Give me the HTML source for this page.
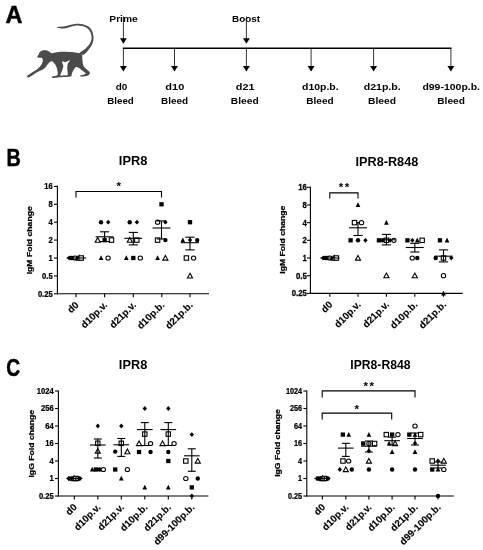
<!DOCTYPE html>
<html lang="en"><head><meta charset="utf-8"><title>Figure</title>
<style>html,body{margin:0;padding:0;background:#fff}svg{display:block}text{font-family:'Liberation Sans', sans-serif}</style>
</head><body>
<svg width="483" height="550" viewBox="0 0 483 550">
<rect width="483" height="550" fill="#fff"/>
<text transform="translate(5.61,23.2) scale(0.9955,1)" font-size="23.6" font-weight="bold" fill="#000" stroke="#000" stroke-width="0.5">A</text>
<text transform="translate(6.52,165.7) scale(0.8231,1)" font-size="24.0" font-weight="bold" fill="#000" stroke="#000" stroke-width="0.5">B</text>
<text transform="translate(6.33,375.6) scale(0.7949,1)" font-size="24.2" font-weight="bold" fill="#000" stroke="#000" stroke-width="0.5">C</text>
<g fill="#4b4b4b" stroke="none"><path d="M56.50,27.05 C57.18,26.67 61.67,26.73 64.70,26.20 C67.73,25.67 71.67,24.23 74.70,23.90 C77.73,23.57 80.28,23.48 82.90,24.20 C85.52,24.92 88.63,26.15 90.40,28.20 C92.17,30.25 93.23,33.73 93.50,36.50 C93.77,39.27 93.07,42.32 92.00,44.80 C90.93,47.28 88.62,49.75 87.10,51.40 C85.58,53.05 84.25,54.37 82.90,54.70 C81.55,55.03 78.53,54.45 79.00,53.40 C79.47,52.35 83.85,50.12 85.70,48.40 C87.55,46.68 89.12,45.08 90.10,43.10 C91.08,41.12 91.83,38.77 91.60,36.50 C91.37,34.23 90.28,31.23 88.70,29.50 C87.12,27.77 84.43,26.73 82.10,26.10 C79.77,25.47 77.45,25.35 74.70,25.70 C71.95,26.05 67.95,27.73 65.60,28.20 C63.25,28.67 62.12,28.69 60.60,28.50 C59.08,28.31 55.82,27.43 56.50,27.05 Z"/><path d="M37.30,56.50 C37.32,56.02 38.13,55.45 38.50,54.80 C38.87,54.15 39.05,53.23 39.50,52.60 C39.95,51.97 40.52,51.38 41.20,51.00 C41.88,50.62 42.80,50.42 43.60,50.30 C44.40,50.18 45.23,50.18 46.00,50.30 C46.77,50.42 47.48,50.62 48.20,51.00 C48.92,51.38 49.70,52.23 50.30,52.60 C50.90,52.97 51.32,53.13 51.80,53.20 C52.28,53.27 52.15,53.20 53.20,53.00 C54.25,52.80 56.42,52.22 58.10,52.00 C59.78,51.78 61.05,51.70 63.30,51.70 C65.55,51.70 69.12,51.77 71.60,52.00 C74.08,52.23 76.47,52.57 78.20,53.10 C79.93,53.63 81.32,54.38 82.00,55.20 C82.68,56.02 82.18,56.77 82.30,58.00 C82.42,59.23 82.48,61.28 82.70,62.60 C82.92,63.92 82.97,64.80 83.60,65.90 C84.23,67.00 85.53,68.23 86.50,69.20 C87.47,70.17 88.87,70.95 89.40,71.70 C89.93,72.45 89.92,73.08 89.70,73.70 C89.48,74.32 88.97,74.98 88.10,75.40 C87.23,75.82 85.73,76.00 84.50,76.20 C83.27,76.40 81.40,76.70 80.70,76.60 C80.00,76.50 79.75,75.93 80.30,75.60 C80.85,75.27 83.12,74.98 84.00,74.60 C84.88,74.22 86.02,74.07 85.60,73.30 C85.18,72.53 82.73,70.97 81.50,70.00 C80.27,69.03 79.10,67.98 78.20,67.50 C77.30,67.02 76.87,66.68 76.10,67.10 C75.33,67.52 74.28,68.97 73.60,70.00 C72.92,71.03 72.33,72.40 72.00,73.30 C71.67,74.20 71.82,74.88 71.60,75.40 C71.38,75.92 71.80,76.15 70.70,76.40 C69.60,76.65 67.12,76.73 65.00,76.90 C62.88,77.07 60.05,77.23 58.00,77.40 C55.95,77.57 53.65,78.03 52.70,77.90 C51.75,77.77 51.52,77.08 52.30,76.60 C53.08,76.12 56.57,76.10 57.40,75.00 C58.23,73.90 57.60,71.67 57.30,70.00 C57.00,68.33 56.43,66.43 55.60,65.00 C54.77,63.57 53.27,61.88 52.30,61.40 C51.33,60.92 50.77,61.35 49.80,62.10 C48.83,62.85 47.67,64.65 46.50,65.90 C45.33,67.15 44.58,68.43 42.80,69.60 C41.02,70.77 38.08,71.62 35.80,72.90 C33.52,74.18 30.52,76.65 29.10,77.30 C27.68,77.95 27.57,77.08 27.30,76.80 C27.03,76.52 26.37,76.52 27.50,75.60 C28.63,74.68 32.17,72.65 34.10,71.30 C36.03,69.95 37.78,68.82 39.10,67.50 C40.42,66.18 41.38,64.70 42.00,63.40 C42.62,62.10 42.87,60.63 42.80,59.70 C42.73,58.77 42.33,58.13 41.60,57.80 C40.87,57.47 39.12,57.92 38.40,57.70 C37.68,57.48 37.28,56.98 37.30,56.50 Z"/><path d="M62.00,61.70 C62.42,61.07 64.48,62.32 65.80,62.10 C67.12,61.88 69.57,60.12 69.90,60.40 C70.23,60.68 68.23,62.33 67.80,63.80 C67.37,65.27 67.33,67.33 67.30,69.20 C67.27,71.07 68.15,73.98 67.60,75.00 C67.05,76.02 65.20,75.23 64.00,75.30 C62.80,75.37 60.80,76.00 60.40,75.40 C60.00,74.80 61.12,73.28 61.60,71.70 C62.08,70.12 63.23,67.57 63.30,65.90 C63.37,64.23 61.58,62.33 62.00,61.70 Z" fill="#fff"/></g>
<line x1="122.80" y1="48.30" x2="451.50" y2="48.30" stroke="#000" stroke-width="1.4" stroke-linecap="butt"/>
<line x1="123.40" y1="16.50" x2="123.40" y2="39.70" stroke="#000" stroke-width="0.8" stroke-linecap="butt"/>
<polygon points="119.95,38.20 126.85,38.20 123.40,43.70" fill="#000"/>
<line x1="246.40" y1="16.50" x2="246.40" y2="39.70" stroke="#000" stroke-width="0.8" stroke-linecap="butt"/>
<polygon points="242.95,38.20 249.85,38.20 246.40,43.70" fill="#000"/>
<line x1="123.40" y1="48.30" x2="123.40" y2="67.50" stroke="#000" stroke-width="0.8" stroke-linecap="butt"/>
<polygon points="119.95,66.00 126.85,66.00 123.40,71.50" fill="#000"/>
<line x1="174.50" y1="48.30" x2="174.50" y2="67.50" stroke="#000" stroke-width="0.8" stroke-linecap="butt"/>
<polygon points="171.05,66.00 177.95,66.00 174.50,71.50" fill="#000"/>
<line x1="246.40" y1="48.30" x2="246.40" y2="67.50" stroke="#000" stroke-width="0.8" stroke-linecap="butt"/>
<polygon points="242.95,66.00 249.85,66.00 246.40,71.50" fill="#000"/>
<line x1="311.10" y1="48.30" x2="311.10" y2="67.50" stroke="#000" stroke-width="0.8" stroke-linecap="butt"/>
<polygon points="307.65,66.00 314.55,66.00 311.10,71.50" fill="#000"/>
<line x1="373.60" y1="48.30" x2="373.60" y2="67.50" stroke="#000" stroke-width="0.8" stroke-linecap="butt"/>
<polygon points="370.15,66.00 377.05,66.00 373.60,71.50" fill="#000"/>
<line x1="450.90" y1="48.30" x2="450.90" y2="67.50" stroke="#000" stroke-width="0.8" stroke-linecap="butt"/>
<polygon points="447.45,66.00 454.35,66.00 450.90,71.50" fill="#000"/>
<text transform="translate(109.34,22.4) scale(1.0394,1)" font-size="9.8" font-weight="bold" fill="#000">Prime</text>
<text transform="translate(232.06,22.4) scale(1.0102,1)" font-size="9.8" font-weight="bold" fill="#000">Boost</text>
<text transform="translate(115.70,90.3) scale(1.0134,1)" font-size="9.8" font-weight="bold" fill="#000">d0</text>
<text transform="translate(107.27,103.6) scale(0.9919,1)" font-size="9.8" font-weight="bold" fill="#000">Bleed</text>
<text transform="translate(165.36,90.3) scale(1.1228,1)" font-size="9.8" font-weight="bold" fill="#000">d10</text>
<text transform="translate(161.06,103.6) scale(1.0116,1)" font-size="9.8" font-weight="bold" fill="#000">Bleed</text>
<text transform="translate(235.77,90.3) scale(1.1081,1)" font-size="9.8" font-weight="bold" fill="#000">d21</text>
<text transform="translate(230.84,103.6) scale(1.0430,1)" font-size="9.8" font-weight="bold" fill="#000">Bleed</text>
<text transform="translate(301.98,90.3) scale(1.0708,1)" font-size="9.8" font-weight="bold" fill="#000">d10p.b.</text>
<text transform="translate(306.35,103.6) scale(1.0234,1)" font-size="9.8" font-weight="bold" fill="#000">Bleed</text>
<text transform="translate(363.68,90.3) scale(1.0798,1)" font-size="9.8" font-weight="bold" fill="#000">d21p.b.</text>
<text transform="translate(368.03,103.6) scale(1.0509,1)" font-size="9.8" font-weight="bold" fill="#000">Bleed</text>
<text transform="translate(422.38,90.3) scale(1.0686,1)" font-size="9.8" font-weight="bold" fill="#000">d99-100p.b.</text>
<text transform="translate(437.24,103.6) scale(1.0352,1)" font-size="9.8" font-weight="bold" fill="#000">Bleed</text>
<text transform="translate(118.86,164.9) scale(1.0209,1)" font-size="12.6" font-weight="bold" fill="#000">IPR8</text>
<text transform="translate(355.47,166.0) scale(1.0091,1)" font-size="12.6" font-weight="bold" fill="#000">IPR8-R848</text>
<text transform="translate(118.87,369.3) scale(1.0135,1)" font-size="12.6" font-weight="bold" fill="#000">IPR8</text>
<text transform="translate(350.31,369.0) scale(0.9666,1)" font-size="12.6" font-weight="bold" fill="#000">IPR8-R848</text>
<line x1="57.40" y1="185.85" x2="57.40" y2="294.35" stroke="#000" stroke-width="1.1" stroke-linecap="butt"/>
<line x1="56.85" y1="293.80" x2="209.00" y2="293.80" stroke="#000" stroke-width="1.1" stroke-linecap="butt"/>
<line x1="54.00" y1="186.40" x2="57.40" y2="186.40" stroke="#000" stroke-width="1.1" stroke-linecap="butt"/>
<text transform="translate(52.70,189.30) scale(0.93,1)" font-size="8.2" font-weight="bold" text-anchor="end" fill="#000" stroke="#000" stroke-width="0.25">16</text>
<line x1="54.00" y1="204.30" x2="57.40" y2="204.30" stroke="#000" stroke-width="1.1" stroke-linecap="butt"/>
<text transform="translate(52.70,207.20) scale(0.93,1)" font-size="8.2" font-weight="bold" text-anchor="end" fill="#000" stroke="#000" stroke-width="0.25">8</text>
<line x1="54.00" y1="222.20" x2="57.40" y2="222.20" stroke="#000" stroke-width="1.1" stroke-linecap="butt"/>
<text transform="translate(52.70,225.10) scale(0.93,1)" font-size="8.2" font-weight="bold" text-anchor="end" fill="#000" stroke="#000" stroke-width="0.25">4</text>
<line x1="54.00" y1="240.10" x2="57.40" y2="240.10" stroke="#000" stroke-width="1.1" stroke-linecap="butt"/>
<text transform="translate(52.70,243.00) scale(0.93,1)" font-size="8.2" font-weight="bold" text-anchor="end" fill="#000" stroke="#000" stroke-width="0.25">2</text>
<line x1="54.00" y1="258.00" x2="57.40" y2="258.00" stroke="#000" stroke-width="1.1" stroke-linecap="butt"/>
<text transform="translate(52.70,260.90) scale(0.93,1)" font-size="8.2" font-weight="bold" text-anchor="end" fill="#000" stroke="#000" stroke-width="0.25">1</text>
<line x1="54.00" y1="275.90" x2="57.40" y2="275.90" stroke="#000" stroke-width="1.1" stroke-linecap="butt"/>
<text transform="translate(52.70,278.80) scale(0.93,1)" font-size="8.2" font-weight="bold" text-anchor="end" fill="#000" stroke="#000" stroke-width="0.25">0.5</text>
<line x1="54.00" y1="293.80" x2="57.40" y2="293.80" stroke="#000" stroke-width="1.1" stroke-linecap="butt"/>
<text transform="translate(52.70,296.70) scale(0.93,1)" font-size="8.2" font-weight="bold" text-anchor="end" fill="#000" stroke="#000" stroke-width="0.25">0.25</text>
<line x1="76.00" y1="293.80" x2="76.00" y2="297.20" stroke="#000" stroke-width="1.1" stroke-linecap="butt"/>
<text transform="translate(79.30,305.60) rotate(-45)" font-size="9.7" font-weight="bold" text-anchor="end" fill="#000" stroke="#000" stroke-width="0.15">d0</text>
<line x1="104.60" y1="293.80" x2="104.60" y2="297.20" stroke="#000" stroke-width="1.1" stroke-linecap="butt"/>
<text transform="translate(107.90,305.60) rotate(-45)" font-size="9.7" font-weight="bold" text-anchor="end" fill="#000" stroke="#000" stroke-width="0.15">d10p.v.</text>
<line x1="133.30" y1="293.80" x2="133.30" y2="297.20" stroke="#000" stroke-width="1.1" stroke-linecap="butt"/>
<text transform="translate(136.60,305.60) rotate(-45)" font-size="9.7" font-weight="bold" text-anchor="end" fill="#000" stroke="#000" stroke-width="0.15">d21p.v.</text>
<line x1="161.80" y1="293.80" x2="161.80" y2="297.20" stroke="#000" stroke-width="1.1" stroke-linecap="butt"/>
<text transform="translate(165.10,305.60) rotate(-45)" font-size="9.7" font-weight="bold" text-anchor="end" fill="#000" stroke="#000" stroke-width="0.15">d10p.b.</text>
<line x1="190.00" y1="293.80" x2="190.00" y2="297.20" stroke="#000" stroke-width="1.1" stroke-linecap="butt"/>
<text transform="translate(193.30,305.60) rotate(-45)" font-size="9.7" font-weight="bold" text-anchor="end" fill="#000" stroke="#000" stroke-width="0.15">d21p.b.</text>
<text transform="translate(31.60,240.30) rotate(-90) scale(1.235,1)" font-size="7.0" font-weight="bold" text-anchor="middle" fill="#000" stroke="#000" stroke-width="0.25">IgM Fold change</text>
<polygon points="69.20,255.60 71.40,258.00 69.20,260.40 67.00,258.00" fill="#000"/>
<circle cx="71.20" cy="258.00" r="2.2" fill="#000"/>
<rect x="71.05" y="255.85" width="4.3" height="4.3" fill="#000"/>
<ellipse cx="75.20" cy="258.00" rx="2.18" ry="2.08" fill="#fff" stroke="#000" stroke-width="1.04"/>
<polygon points="77.20,255.30 79.55,260.10 74.85,260.10" fill="#000"/>
<polygon points="79.20,255.40 81.75,260.10 76.65,260.10" fill="#fff" stroke="#000" stroke-width="1.1" stroke-linejoin="miter"/>
<rect x="79.00" y="255.80" width="4.40" height="4.40" fill="#fff" stroke="#000" stroke-width="1.1"/>
<circle cx="101.00" cy="222.20" r="2.2" fill="#000"/>
<polygon points="108.20,219.80 110.40,222.20 108.20,224.60 106.00,222.20" fill="#000"/>
<polygon points="97.70,237.50 100.25,242.20 95.15,242.20" fill="#fff" stroke="#000" stroke-width="1.1" stroke-linejoin="miter"/>
<rect x="102.45" y="237.95" width="4.3" height="4.3" fill="#000"/>
<rect x="109.30" y="237.90" width="4.40" height="4.40" fill="#fff" stroke="#000" stroke-width="1.1"/>
<polygon points="101.10,255.30 103.45,260.10 98.75,260.10" fill="#000"/>
<ellipse cx="108.10" cy="258.00" rx="2.18" ry="2.08" fill="#fff" stroke="#000" stroke-width="1.04"/>
<circle cx="129.70" cy="222.20" r="2.2" fill="#000"/>
<polygon points="136.90,219.80 139.10,222.20 136.90,224.60 134.70,222.20" fill="#000"/>
<polygon points="129.80,237.50 132.35,242.20 127.25,242.20" fill="#fff" stroke="#000" stroke-width="1.1" stroke-linejoin="miter"/>
<rect x="134.60" y="237.90" width="4.40" height="4.40" fill="#fff" stroke="#000" stroke-width="1.1"/>
<polygon points="126.30,255.30 128.65,260.10 123.95,260.10" fill="#000"/>
<rect x="131.15" y="255.85" width="4.3" height="4.3" fill="#000"/>
<ellipse cx="140.30" cy="258.00" rx="2.18" ry="2.08" fill="#fff" stroke="#000" stroke-width="1.04"/>
<rect x="159.35" y="202.15" width="4.3" height="4.3" fill="#000"/>
<ellipse cx="157.60" cy="222.20" rx="2.18" ry="2.08" fill="#fff" stroke="#000" stroke-width="1.04"/>
<polygon points="165.40,219.80 167.60,222.20 165.40,224.60 163.20,222.20" fill="#000"/>
<rect x="155.40" y="237.90" width="4.40" height="4.40" fill="#fff" stroke="#000" stroke-width="1.1"/>
<circle cx="165.40" cy="240.10" r="2.2" fill="#000"/>
<polygon points="157.60,255.30 159.95,260.10 155.25,260.10" fill="#000"/>
<polygon points="165.40,255.40 167.95,260.10 162.85,260.10" fill="#fff" stroke="#000" stroke-width="1.1" stroke-linejoin="miter"/>
<rect x="187.85" y="220.05" width="4.3" height="4.3" fill="#000"/>
<polygon points="182.80,237.40 185.15,242.20 180.45,242.20" fill="#000"/>
<polygon points="190.00,237.70 192.20,240.10 190.00,242.50 187.80,240.10" fill="#000"/>
<circle cx="197.20" cy="240.10" r="2.2" fill="#000"/>
<rect x="184.20" y="255.80" width="4.40" height="4.40" fill="#fff" stroke="#000" stroke-width="1.1"/>
<ellipse cx="193.60" cy="258.00" rx="2.18" ry="2.08" fill="#fff" stroke="#000" stroke-width="1.04"/>
<polygon points="190.00,273.30 192.55,278.00 187.45,278.00" fill="#fff" stroke="#000" stroke-width="1.1" stroke-linejoin="miter"/>
<line x1="66.60" y1="258.00" x2="86.00" y2="258.00" stroke="#000" stroke-width="1.1" stroke-linecap="butt"/>
<line x1="95.60" y1="236.80" x2="113.60" y2="236.80" stroke="#000" stroke-width="1.1" stroke-linecap="butt"/>
<line x1="104.60" y1="231.80" x2="104.60" y2="241.60" stroke="#000" stroke-width="1.1" stroke-linecap="butt"/>
<line x1="100.00" y1="231.80" x2="109.20" y2="231.80" stroke="#000" stroke-width="1.1" stroke-linecap="butt"/>
<line x1="100.00" y1="241.60" x2="109.20" y2="241.60" stroke="#000" stroke-width="1.1" stroke-linecap="butt"/>
<line x1="124.30" y1="238.30" x2="142.30" y2="238.30" stroke="#000" stroke-width="1.1" stroke-linecap="butt"/>
<line x1="133.30" y1="232.40" x2="133.30" y2="244.90" stroke="#000" stroke-width="1.1" stroke-linecap="butt"/>
<line x1="128.70" y1="232.40" x2="137.90" y2="232.40" stroke="#000" stroke-width="1.1" stroke-linecap="butt"/>
<line x1="128.70" y1="244.90" x2="137.90" y2="244.90" stroke="#000" stroke-width="1.1" stroke-linecap="butt"/>
<line x1="152.50" y1="228.00" x2="170.50" y2="228.00" stroke="#000" stroke-width="1.1" stroke-linecap="butt"/>
<line x1="161.50" y1="220.90" x2="161.50" y2="239.00" stroke="#000" stroke-width="1.1" stroke-linecap="butt"/>
<line x1="156.90" y1="220.90" x2="166.10" y2="220.90" stroke="#000" stroke-width="1.1" stroke-linecap="butt"/>
<line x1="156.90" y1="239.00" x2="166.10" y2="239.00" stroke="#000" stroke-width="1.1" stroke-linecap="butt"/>
<line x1="181.00" y1="242.70" x2="199.00" y2="242.70" stroke="#000" stroke-width="1.1" stroke-linecap="butt"/>
<line x1="190.00" y1="237.20" x2="190.00" y2="249.90" stroke="#000" stroke-width="1.1" stroke-linecap="butt"/>
<line x1="185.40" y1="237.20" x2="194.60" y2="237.20" stroke="#000" stroke-width="1.1" stroke-linecap="butt"/>
<line x1="185.40" y1="249.90" x2="194.60" y2="249.90" stroke="#000" stroke-width="1.1" stroke-linecap="butt"/>
<polyline points="76.00,197.40 76.00,191.50 161.50,191.50 161.50,197.40" fill="none" stroke="#000" stroke-width="1.1"/>
<text x="118.7" y="190.0" font-size="11.6" font-weight="bold" text-anchor="middle" fill="#000">*</text>
<line x1="310.40" y1="186.73" x2="310.40" y2="293.91" stroke="#000" stroke-width="1.1" stroke-linecap="butt"/>
<line x1="309.85" y1="293.36" x2="462.80" y2="293.36" stroke="#000" stroke-width="1.1" stroke-linecap="butt"/>
<line x1="307.00" y1="187.28" x2="310.40" y2="187.28" stroke="#000" stroke-width="1.1" stroke-linecap="butt"/>
<text transform="translate(306.80,190.18) scale(0.95,1)" font-size="8.2" font-weight="bold" text-anchor="end" fill="#000" stroke="#000" stroke-width="0.25">16</text>
<line x1="307.00" y1="204.96" x2="310.40" y2="204.96" stroke="#000" stroke-width="1.1" stroke-linecap="butt"/>
<text transform="translate(306.80,207.86) scale(0.95,1)" font-size="8.2" font-weight="bold" text-anchor="end" fill="#000" stroke="#000" stroke-width="0.25">8</text>
<line x1="307.00" y1="222.64" x2="310.40" y2="222.64" stroke="#000" stroke-width="1.1" stroke-linecap="butt"/>
<text transform="translate(306.80,225.54) scale(0.95,1)" font-size="8.2" font-weight="bold" text-anchor="end" fill="#000" stroke="#000" stroke-width="0.25">4</text>
<line x1="307.00" y1="240.32" x2="310.40" y2="240.32" stroke="#000" stroke-width="1.1" stroke-linecap="butt"/>
<text transform="translate(306.80,243.22) scale(0.95,1)" font-size="8.2" font-weight="bold" text-anchor="end" fill="#000" stroke="#000" stroke-width="0.25">2</text>
<line x1="307.00" y1="258.00" x2="310.40" y2="258.00" stroke="#000" stroke-width="1.1" stroke-linecap="butt"/>
<text transform="translate(306.80,260.90) scale(0.95,1)" font-size="8.2" font-weight="bold" text-anchor="end" fill="#000" stroke="#000" stroke-width="0.25">1</text>
<line x1="307.00" y1="275.68" x2="310.40" y2="275.68" stroke="#000" stroke-width="1.1" stroke-linecap="butt"/>
<text transform="translate(306.80,278.58) scale(0.95,1)" font-size="8.2" font-weight="bold" text-anchor="end" fill="#000" stroke="#000" stroke-width="0.25">0.5</text>
<line x1="307.00" y1="293.36" x2="310.40" y2="293.36" stroke="#000" stroke-width="1.1" stroke-linecap="butt"/>
<text transform="translate(306.80,296.26) scale(0.95,1)" font-size="8.2" font-weight="bold" text-anchor="end" fill="#000" stroke="#000" stroke-width="0.25">0.25</text>
<line x1="329.80" y1="293.36" x2="329.80" y2="296.76" stroke="#000" stroke-width="1.1" stroke-linecap="butt"/>
<text transform="translate(333.10,305.16) rotate(-45)" font-size="9.7" font-weight="bold" text-anchor="end" fill="#000" stroke="#000" stroke-width="0.15">d0</text>
<line x1="358.00" y1="293.36" x2="358.00" y2="296.76" stroke="#000" stroke-width="1.1" stroke-linecap="butt"/>
<text transform="translate(361.30,305.16) rotate(-45)" font-size="9.7" font-weight="bold" text-anchor="end" fill="#000" stroke="#000" stroke-width="0.15">d10p.v.</text>
<line x1="386.40" y1="293.36" x2="386.40" y2="296.76" stroke="#000" stroke-width="1.1" stroke-linecap="butt"/>
<text transform="translate(389.70,305.16) rotate(-45)" font-size="9.7" font-weight="bold" text-anchor="end" fill="#000" stroke="#000" stroke-width="0.15">d21p.v.</text>
<line x1="414.80" y1="293.36" x2="414.80" y2="296.76" stroke="#000" stroke-width="1.1" stroke-linecap="butt"/>
<text transform="translate(418.10,305.16) rotate(-45)" font-size="9.7" font-weight="bold" text-anchor="end" fill="#000" stroke="#000" stroke-width="0.15">d10p.b.</text>
<line x1="443.50" y1="293.36" x2="443.50" y2="296.76" stroke="#000" stroke-width="1.1" stroke-linecap="butt"/>
<text transform="translate(446.80,305.16) rotate(-45)" font-size="9.7" font-weight="bold" text-anchor="end" fill="#000" stroke="#000" stroke-width="0.15">d21p.b.</text>
<text transform="translate(284.90,239.70) rotate(-90) scale(1.235,1)" font-size="7.0" font-weight="bold" text-anchor="middle" fill="#000" stroke="#000" stroke-width="0.25">IgM Fold change</text>
<polygon points="323.20,255.60 325.40,258.00 323.20,260.40 321.00,258.00" fill="#000"/>
<circle cx="325.40" cy="258.00" r="2.2" fill="#000"/>
<rect x="325.45" y="255.85" width="4.3" height="4.3" fill="#000"/>
<ellipse cx="329.80" cy="258.00" rx="2.18" ry="2.08" fill="#fff" stroke="#000" stroke-width="1.04"/>
<polygon points="332.00,255.30 334.35,260.10 329.65,260.10" fill="#000"/>
<polygon points="334.20,255.40 336.75,260.10 331.65,260.10" fill="#fff" stroke="#000" stroke-width="1.1" stroke-linejoin="miter"/>
<rect x="334.20" y="255.80" width="4.40" height="4.40" fill="#fff" stroke="#000" stroke-width="1.1"/>
<line x1="320.30" y1="258.00" x2="339.30" y2="258.00" stroke="#000" stroke-width="1.1" stroke-linecap="butt"/>
<line x1="349.00" y1="227.80" x2="367.00" y2="227.80" stroke="#000" stroke-width="1.1" stroke-linecap="butt"/>
<line x1="358.00" y1="222.60" x2="358.00" y2="235.50" stroke="#000" stroke-width="1.1" stroke-linecap="butt"/>
<line x1="353.40" y1="222.60" x2="362.60" y2="222.60" stroke="#000" stroke-width="1.1" stroke-linecap="butt"/>
<line x1="353.40" y1="235.50" x2="362.60" y2="235.50" stroke="#000" stroke-width="1.1" stroke-linecap="butt"/>
<polygon points="358.00,202.26 360.35,207.06 355.65,207.06" fill="#000"/>
<rect x="352.30" y="220.44" width="4.40" height="4.40" fill="#fff" stroke="#000" stroke-width="1.1"/>
<ellipse cx="361.50" cy="222.64" rx="2.18" ry="2.08" fill="#fff" stroke="#000" stroke-width="1.04"/>
<rect x="348.45" y="238.17" width="4.3" height="4.3" fill="#000"/>
<circle cx="358.00" cy="240.32" r="2.2" fill="#000"/>
<polygon points="365.40,237.92 367.60,240.32 365.40,242.72 363.20,240.32" fill="#000"/>
<polygon points="358.00,255.40 360.55,260.10 355.45,260.10" fill="#fff" stroke="#000" stroke-width="1.1" stroke-linejoin="miter"/>
<polygon points="386.40,219.94 388.75,224.74 384.05,224.74" fill="#000"/>
<rect x="376.75" y="238.17" width="4.3" height="4.3" fill="#000"/>
<circle cx="382.65" cy="240.32" r="2.2" fill="#000"/>
<rect x="384.20" y="238.12" width="4.40" height="4.40" fill="#fff" stroke="#000" stroke-width="1.1"/>
<polygon points="390.15,237.92 392.35,240.32 390.15,242.72 387.95,240.32" fill="#000"/>
<ellipse cx="393.90" cy="240.32" rx="2.18" ry="2.08" fill="#fff" stroke="#000" stroke-width="1.04"/>
<polygon points="386.40,273.08 388.95,277.78 383.85,277.78" fill="#fff" stroke="#000" stroke-width="1.1" stroke-linejoin="miter"/>
<rect x="405.30" y="238.17" width="4.3" height="4.3" fill="#000"/>
<polygon points="412.35,237.92 414.55,240.32 412.35,242.72 410.15,240.32" fill="#000"/>
<polygon points="417.25,237.62 419.60,242.42 414.90,242.42" fill="#000"/>
<rect x="419.95" y="238.12" width="4.40" height="4.40" fill="#fff" stroke="#000" stroke-width="1.1"/>
<ellipse cx="412.30" cy="258.00" rx="2.18" ry="2.08" fill="#fff" stroke="#000" stroke-width="1.04"/>
<circle cx="417.30" cy="258.00" r="2.2" fill="#000"/>
<polygon points="414.80,273.08 417.35,277.78 412.25,277.78" fill="#fff" stroke="#000" stroke-width="1.1" stroke-linejoin="miter"/>
<rect x="437.80" y="238.17" width="4.3" height="4.3" fill="#000"/>
<polygon points="447.05,237.62 449.40,242.42 444.70,242.42" fill="#000"/>
<circle cx="435.70" cy="258.00" r="2.2" fill="#000"/>
<rect x="441.30" y="255.80" width="4.40" height="4.40" fill="#fff" stroke="#000" stroke-width="1.1"/>
<polygon points="451.30,255.60 453.50,258.00 451.30,260.40 449.10,258.00" fill="#000"/>
<ellipse cx="443.50" cy="275.68" rx="2.18" ry="2.08" fill="#fff" stroke="#000" stroke-width="1.04"/>
<polygon points="443.50,290.66 445.85,295.46 441.15,295.46" fill="#000"/>
<line x1="377.40" y1="239.80" x2="395.40" y2="239.80" stroke="#000" stroke-width="1.1" stroke-linecap="butt"/>
<line x1="386.40" y1="234.40" x2="386.40" y2="244.90" stroke="#000" stroke-width="1.1" stroke-linecap="butt"/>
<line x1="381.80" y1="234.40" x2="391.00" y2="234.40" stroke="#000" stroke-width="1.1" stroke-linecap="butt"/>
<line x1="381.80" y1="244.90" x2="391.00" y2="244.90" stroke="#000" stroke-width="1.1" stroke-linecap="butt"/>
<line x1="405.80" y1="247.50" x2="423.80" y2="247.50" stroke="#000" stroke-width="1.1" stroke-linecap="butt"/>
<line x1="414.80" y1="243.30" x2="414.80" y2="252.00" stroke="#000" stroke-width="1.1" stroke-linecap="butt"/>
<line x1="410.20" y1="243.30" x2="419.40" y2="243.30" stroke="#000" stroke-width="1.1" stroke-linecap="butt"/>
<line x1="410.20" y1="252.00" x2="419.40" y2="252.00" stroke="#000" stroke-width="1.1" stroke-linecap="butt"/>
<line x1="434.50" y1="256.20" x2="452.50" y2="256.20" stroke="#000" stroke-width="1.1" stroke-linecap="butt"/>
<line x1="443.50" y1="249.90" x2="443.50" y2="261.90" stroke="#000" stroke-width="1.1" stroke-linecap="butt"/>
<line x1="438.90" y1="249.90" x2="448.10" y2="249.90" stroke="#000" stroke-width="1.1" stroke-linecap="butt"/>
<line x1="438.90" y1="261.90" x2="448.10" y2="261.90" stroke="#000" stroke-width="1.1" stroke-linecap="butt"/>
<polyline points="329.80,198.60 329.80,192.90 358.00,192.90 358.00,198.60" fill="none" stroke="#000" stroke-width="1.1"/>
<text x="344.8" y="191.2" font-size="11.6" font-weight="bold" text-anchor="middle" fill="#000" letter-spacing="1.6">**</text>
<line x1="58.40" y1="390.45" x2="58.40" y2="496.55" stroke="#000" stroke-width="1.1" stroke-linecap="butt"/>
<line x1="57.85" y1="496.00" x2="208.40" y2="496.00" stroke="#000" stroke-width="1.1" stroke-linecap="butt"/>
<line x1="55.00" y1="391.00" x2="58.40" y2="391.00" stroke="#000" stroke-width="1.1" stroke-linecap="butt"/>
<text transform="translate(53.70,393.90) scale(0.93,1)" font-size="8.2" font-weight="bold" text-anchor="end" fill="#000" stroke="#000" stroke-width="0.25">1024</text>
<line x1="55.00" y1="408.50" x2="58.40" y2="408.50" stroke="#000" stroke-width="1.1" stroke-linecap="butt"/>
<text transform="translate(53.70,411.40) scale(0.93,1)" font-size="8.2" font-weight="bold" text-anchor="end" fill="#000" stroke="#000" stroke-width="0.25">256</text>
<line x1="55.00" y1="426.00" x2="58.40" y2="426.00" stroke="#000" stroke-width="1.1" stroke-linecap="butt"/>
<text transform="translate(53.70,428.90) scale(0.93,1)" font-size="8.2" font-weight="bold" text-anchor="end" fill="#000" stroke="#000" stroke-width="0.25">64</text>
<line x1="55.00" y1="443.50" x2="58.40" y2="443.50" stroke="#000" stroke-width="1.1" stroke-linecap="butt"/>
<text transform="translate(53.70,446.40) scale(0.93,1)" font-size="8.2" font-weight="bold" text-anchor="end" fill="#000" stroke="#000" stroke-width="0.25">16</text>
<line x1="55.00" y1="461.00" x2="58.40" y2="461.00" stroke="#000" stroke-width="1.1" stroke-linecap="butt"/>
<text transform="translate(53.70,463.90) scale(0.93,1)" font-size="8.2" font-weight="bold" text-anchor="end" fill="#000" stroke="#000" stroke-width="0.25">4</text>
<line x1="55.00" y1="478.50" x2="58.40" y2="478.50" stroke="#000" stroke-width="1.1" stroke-linecap="butt"/>
<text transform="translate(53.70,481.40) scale(0.93,1)" font-size="8.2" font-weight="bold" text-anchor="end" fill="#000" stroke="#000" stroke-width="0.25">1</text>
<line x1="55.00" y1="496.00" x2="58.40" y2="496.00" stroke="#000" stroke-width="1.1" stroke-linecap="butt"/>
<text transform="translate(53.70,498.90) scale(0.93,1)" font-size="8.2" font-weight="bold" text-anchor="end" fill="#000" stroke="#000" stroke-width="0.25">0.25</text>
<line x1="74.30" y1="496.00" x2="74.30" y2="499.40" stroke="#000" stroke-width="1.1" stroke-linecap="butt"/>
<text transform="translate(77.60,507.80) rotate(-45)" font-size="9.7" font-weight="bold" text-anchor="end" fill="#000" stroke="#000" stroke-width="0.15">d0</text>
<line x1="97.80" y1="496.00" x2="97.80" y2="499.40" stroke="#000" stroke-width="1.1" stroke-linecap="butt"/>
<text transform="translate(101.10,507.80) rotate(-45)" font-size="9.7" font-weight="bold" text-anchor="end" fill="#000" stroke="#000" stroke-width="0.15">d10p.v.</text>
<line x1="121.30" y1="496.00" x2="121.30" y2="499.40" stroke="#000" stroke-width="1.1" stroke-linecap="butt"/>
<text transform="translate(124.60,507.80) rotate(-45)" font-size="9.7" font-weight="bold" text-anchor="end" fill="#000" stroke="#000" stroke-width="0.15">d21p.v.</text>
<line x1="144.80" y1="496.00" x2="144.80" y2="499.40" stroke="#000" stroke-width="1.1" stroke-linecap="butt"/>
<text transform="translate(148.10,507.80) rotate(-45)" font-size="9.7" font-weight="bold" text-anchor="end" fill="#000" stroke="#000" stroke-width="0.15">d10p.b.</text>
<line x1="168.30" y1="496.00" x2="168.30" y2="499.40" stroke="#000" stroke-width="1.1" stroke-linecap="butt"/>
<text transform="translate(171.60,507.80) rotate(-45)" font-size="9.7" font-weight="bold" text-anchor="end" fill="#000" stroke="#000" stroke-width="0.15">d21p.b.</text>
<line x1="191.80" y1="496.00" x2="191.80" y2="499.40" stroke="#000" stroke-width="1.1" stroke-linecap="butt"/>
<text transform="translate(195.10,507.80) rotate(-45)" font-size="9.7" font-weight="bold" text-anchor="end" fill="#000" stroke="#000" stroke-width="0.15">d99-100p.b.</text>
<text transform="translate(34.00,443.70) rotate(-90) scale(1.235,1)" font-size="7.0" font-weight="bold" text-anchor="middle" fill="#000" stroke="#000" stroke-width="0.25">IgG Fold change</text>
<polygon points="68.70,476.10 70.90,478.50 68.70,480.90 66.50,478.50" fill="#000"/>
<rect x="68.35" y="476.35" width="4.3" height="4.3" fill="#000"/>
<polygon points="72.30,475.80 74.65,480.60 69.95,480.60" fill="#000"/>
<polygon points="74.10,475.90 76.65,480.60 71.55,480.60" fill="#fff" stroke="#000" stroke-width="1.1" stroke-linejoin="miter"/>
<rect x="73.70" y="476.30" width="4.40" height="4.40" fill="#fff" stroke="#000" stroke-width="1.1"/>
<ellipse cx="77.70" cy="478.50" rx="2.18" ry="2.08" fill="#fff" stroke="#000" stroke-width="1.04"/>
<circle cx="79.50" cy="478.50" r="2.2" fill="#000"/>
<polygon points="97.80,423.60 100.00,426.00 97.80,428.40 95.60,426.00" fill="#000"/>
<rect x="95.60" y="441.10" width="4.40" height="4.40" fill="#fff" stroke="#000" stroke-width="1.1"/>
<polygon points="97.80,448.40 100.35,453.10 95.25,453.10" fill="#fff" stroke="#000" stroke-width="1.1" stroke-linejoin="miter"/>
<polygon points="92.25,466.80 94.60,471.60 89.90,471.60" fill="#000"/>
<rect x="93.80" y="467.35" width="4.3" height="4.3" fill="#000"/>
<circle cx="99.65" cy="469.50" r="2.2" fill="#000"/>
<ellipse cx="103.35" cy="469.50" rx="2.18" ry="2.08" fill="#fff" stroke="#000" stroke-width="1.04"/>
<polygon points="121.30,423.60 123.50,426.00 121.30,428.40 119.10,426.00" fill="#000"/>
<rect x="119.10" y="441.10" width="4.40" height="4.40" fill="#fff" stroke="#000" stroke-width="1.1"/>
<circle cx="115.20" cy="451.60" r="2.2" fill="#000"/>
<polygon points="127.40,449.00 129.95,453.70 124.85,453.70" fill="#fff" stroke="#000" stroke-width="1.1" stroke-linejoin="miter"/>
<rect x="113.05" y="467.35" width="4.3" height="4.3" fill="#000"/>
<ellipse cx="127.40" cy="469.50" rx="2.18" ry="2.08" fill="#fff" stroke="#000" stroke-width="1.04"/>
<polygon points="121.30,475.80 123.65,480.60 118.95,480.60" fill="#000"/>
<polygon points="144.80,406.10 147.00,408.50 144.80,410.90 142.60,408.50" fill="#000"/>
<rect x="142.60" y="431.90" width="4.40" height="4.40" fill="#fff" stroke="#000" stroke-width="1.1"/>
<polygon points="139.05,440.90 141.60,445.60 136.50,445.60" fill="#fff" stroke="#000" stroke-width="1.1" stroke-linejoin="miter"/>
<ellipse cx="150.55" cy="443.50" rx="2.18" ry="2.08" fill="#fff" stroke="#000" stroke-width="1.04"/>
<rect x="136.90" y="449.85" width="4.3" height="4.3" fill="#000"/>
<circle cx="150.55" cy="452.00" r="2.2" fill="#000"/>
<polygon points="144.80,484.70 147.15,489.50 142.45,489.50" fill="#000"/>
<polygon points="168.30,406.10 170.50,408.50 168.30,410.90 166.10,408.50" fill="#000"/>
<rect x="166.10" y="431.90" width="4.40" height="4.40" fill="#fff" stroke="#000" stroke-width="1.1"/>
<polygon points="162.55,440.90 165.10,445.60 160.00,445.60" fill="#fff" stroke="#000" stroke-width="1.1" stroke-linejoin="miter"/>
<ellipse cx="174.05" cy="443.50" rx="2.18" ry="2.08" fill="#fff" stroke="#000" stroke-width="1.04"/>
<circle cx="168.30" cy="452.00" r="2.2" fill="#000"/>
<rect x="166.15" y="458.85" width="4.3" height="4.3" fill="#000"/>
<polygon points="168.30,484.70 170.65,489.50 165.95,489.50" fill="#000"/>
<polygon points="191.80,432.20 194.00,434.60 191.80,437.00 189.60,434.60" fill="#000"/>
<rect x="183.60" y="458.80" width="4.40" height="4.40" fill="#fff" stroke="#000" stroke-width="1.1"/>
<polygon points="197.80,458.40 200.35,463.10 195.25,463.10" fill="#fff" stroke="#000" stroke-width="1.1" stroke-linejoin="miter"/>
<ellipse cx="185.80" cy="478.50" rx="2.18" ry="2.08" fill="#fff" stroke="#000" stroke-width="1.04"/>
<circle cx="197.80" cy="478.50" r="2.2" fill="#000"/>
<rect x="189.65" y="485.25" width="4.3" height="4.3" fill="#000"/>
<polygon points="191.80,493.60 194.00,496.00 191.80,498.40 189.60,496.00" fill="#000"/>
<line x1="66.30" y1="478.50" x2="82.30" y2="478.50" stroke="#000" stroke-width="1.1" stroke-linecap="butt"/>
<line x1="90.00" y1="445.00" x2="105.60" y2="445.00" stroke="#000" stroke-width="1.1" stroke-linecap="butt"/>
<line x1="97.80" y1="439.00" x2="97.80" y2="458.00" stroke="#000" stroke-width="1.1" stroke-linecap="butt"/>
<line x1="93.80" y1="439.00" x2="101.80" y2="439.00" stroke="#000" stroke-width="1.1" stroke-linecap="butt"/>
<line x1="93.80" y1="458.00" x2="101.80" y2="458.00" stroke="#000" stroke-width="1.1" stroke-linecap="butt"/>
<line x1="113.50" y1="444.80" x2="129.10" y2="444.80" stroke="#000" stroke-width="1.1" stroke-linecap="butt"/>
<line x1="121.30" y1="438.50" x2="121.30" y2="456.40" stroke="#000" stroke-width="1.1" stroke-linecap="butt"/>
<line x1="117.30" y1="438.50" x2="125.30" y2="438.50" stroke="#000" stroke-width="1.1" stroke-linecap="butt"/>
<line x1="117.30" y1="456.40" x2="125.30" y2="456.40" stroke="#000" stroke-width="1.1" stroke-linecap="butt"/>
<line x1="137.00" y1="429.60" x2="152.60" y2="429.60" stroke="#000" stroke-width="1.1" stroke-linecap="butt"/>
<line x1="144.80" y1="422.60" x2="144.80" y2="445.50" stroke="#000" stroke-width="1.1" stroke-linecap="butt"/>
<line x1="140.80" y1="422.60" x2="148.80" y2="422.60" stroke="#000" stroke-width="1.1" stroke-linecap="butt"/>
<line x1="140.80" y1="445.50" x2="148.80" y2="445.50" stroke="#000" stroke-width="1.1" stroke-linecap="butt"/>
<line x1="160.50" y1="429.60" x2="176.10" y2="429.60" stroke="#000" stroke-width="1.1" stroke-linecap="butt"/>
<line x1="168.30" y1="422.60" x2="168.30" y2="445.50" stroke="#000" stroke-width="1.1" stroke-linecap="butt"/>
<line x1="164.30" y1="422.60" x2="172.30" y2="422.60" stroke="#000" stroke-width="1.1" stroke-linecap="butt"/>
<line x1="164.30" y1="445.50" x2="172.30" y2="445.50" stroke="#000" stroke-width="1.1" stroke-linecap="butt"/>
<line x1="184.00" y1="455.80" x2="199.60" y2="455.80" stroke="#000" stroke-width="1.1" stroke-linecap="butt"/>
<line x1="191.80" y1="448.80" x2="191.80" y2="471.30" stroke="#000" stroke-width="1.1" stroke-linecap="butt"/>
<line x1="187.80" y1="448.80" x2="195.80" y2="448.80" stroke="#000" stroke-width="1.1" stroke-linecap="butt"/>
<line x1="187.80" y1="471.30" x2="195.80" y2="471.30" stroke="#000" stroke-width="1.1" stroke-linecap="butt"/>
<line x1="306.80" y1="390.45" x2="306.80" y2="496.55" stroke="#000" stroke-width="1.1" stroke-linecap="butt"/>
<line x1="306.25" y1="496.00" x2="453.90" y2="496.00" stroke="#000" stroke-width="1.1" stroke-linecap="butt"/>
<line x1="303.40" y1="391.00" x2="306.80" y2="391.00" stroke="#000" stroke-width="1.1" stroke-linecap="butt"/>
<text transform="translate(302.10,393.90) scale(0.885,1)" font-size="8.2" font-weight="bold" text-anchor="end" fill="#000" stroke="#000" stroke-width="0.25">1024</text>
<line x1="303.40" y1="408.50" x2="306.80" y2="408.50" stroke="#000" stroke-width="1.1" stroke-linecap="butt"/>
<text transform="translate(302.10,411.40) scale(0.885,1)" font-size="8.2" font-weight="bold" text-anchor="end" fill="#000" stroke="#000" stroke-width="0.25">256</text>
<line x1="303.40" y1="426.00" x2="306.80" y2="426.00" stroke="#000" stroke-width="1.1" stroke-linecap="butt"/>
<text transform="translate(302.10,428.90) scale(0.885,1)" font-size="8.2" font-weight="bold" text-anchor="end" fill="#000" stroke="#000" stroke-width="0.25">64</text>
<line x1="303.40" y1="443.50" x2="306.80" y2="443.50" stroke="#000" stroke-width="1.1" stroke-linecap="butt"/>
<text transform="translate(302.10,446.40) scale(0.885,1)" font-size="8.2" font-weight="bold" text-anchor="end" fill="#000" stroke="#000" stroke-width="0.25">16</text>
<line x1="303.40" y1="461.00" x2="306.80" y2="461.00" stroke="#000" stroke-width="1.1" stroke-linecap="butt"/>
<text transform="translate(302.10,463.90) scale(0.885,1)" font-size="8.2" font-weight="bold" text-anchor="end" fill="#000" stroke="#000" stroke-width="0.25">4</text>
<line x1="303.40" y1="478.50" x2="306.80" y2="478.50" stroke="#000" stroke-width="1.1" stroke-linecap="butt"/>
<text transform="translate(302.10,481.40) scale(0.885,1)" font-size="8.2" font-weight="bold" text-anchor="end" fill="#000" stroke="#000" stroke-width="0.25">1</text>
<line x1="303.40" y1="496.00" x2="306.80" y2="496.00" stroke="#000" stroke-width="1.1" stroke-linecap="butt"/>
<text transform="translate(302.10,498.90) scale(0.885,1)" font-size="8.2" font-weight="bold" text-anchor="end" fill="#000" stroke="#000" stroke-width="0.25">0.25</text>
<line x1="322.40" y1="496.00" x2="322.40" y2="499.40" stroke="#000" stroke-width="1.1" stroke-linecap="butt"/>
<text transform="translate(325.70,507.80) rotate(-45)" font-size="9.7" font-weight="bold" text-anchor="end" fill="#000" stroke="#000" stroke-width="0.15">d0</text>
<line x1="345.80" y1="496.00" x2="345.80" y2="499.40" stroke="#000" stroke-width="1.1" stroke-linecap="butt"/>
<text transform="translate(349.10,507.80) rotate(-45)" font-size="9.7" font-weight="bold" text-anchor="end" fill="#000" stroke="#000" stroke-width="0.15">d10p.v.</text>
<line x1="368.90" y1="496.00" x2="368.90" y2="499.40" stroke="#000" stroke-width="1.1" stroke-linecap="butt"/>
<text transform="translate(372.20,507.80) rotate(-45)" font-size="9.7" font-weight="bold" text-anchor="end" fill="#000" stroke="#000" stroke-width="0.15">d21p.v.</text>
<line x1="392.10" y1="496.00" x2="392.10" y2="499.40" stroke="#000" stroke-width="1.1" stroke-linecap="butt"/>
<text transform="translate(395.40,507.80) rotate(-45)" font-size="9.7" font-weight="bold" text-anchor="end" fill="#000" stroke="#000" stroke-width="0.15">d10p.b.</text>
<line x1="415.00" y1="496.00" x2="415.00" y2="499.40" stroke="#000" stroke-width="1.1" stroke-linecap="butt"/>
<text transform="translate(418.30,507.80) rotate(-45)" font-size="9.7" font-weight="bold" text-anchor="end" fill="#000" stroke="#000" stroke-width="0.15">d21p.b.</text>
<line x1="438.00" y1="496.00" x2="438.00" y2="499.40" stroke="#000" stroke-width="1.1" stroke-linecap="butt"/>
<text transform="translate(441.30,507.80) rotate(-45)" font-size="9.7" font-weight="bold" text-anchor="end" fill="#000" stroke="#000" stroke-width="0.15">d99-100p.b.</text>
<text transform="translate(279.50,443.00) rotate(-90) scale(1.235,1)" font-size="7.0" font-weight="bold" text-anchor="middle" fill="#000" stroke="#000" stroke-width="0.25">IgG Fold change</text>
<polygon points="317.00,476.10 319.20,478.50 317.00,480.90 314.80,478.50" fill="#000"/>
<rect x="316.65" y="476.35" width="4.3" height="4.3" fill="#000"/>
<polygon points="320.60,475.80 322.95,480.60 318.25,480.60" fill="#000"/>
<polygon points="322.40,475.90 324.95,480.60 319.85,480.60" fill="#fff" stroke="#000" stroke-width="1.1" stroke-linejoin="miter"/>
<rect x="322.00" y="476.30" width="4.40" height="4.40" fill="#fff" stroke="#000" stroke-width="1.1"/>
<ellipse cx="326.00" cy="478.50" rx="2.18" ry="2.08" fill="#fff" stroke="#000" stroke-width="1.04"/>
<circle cx="327.80" cy="478.50" r="2.2" fill="#000"/>
<rect x="340.70" y="432.45" width="4.3" height="4.3" fill="#000"/>
<polygon points="348.75,431.90 351.10,436.70 346.40,436.70" fill="#000"/>
<rect x="340.75" y="458.80" width="4.40" height="4.40" fill="#fff" stroke="#000" stroke-width="1.1"/>
<ellipse cx="348.65" cy="461.00" rx="2.18" ry="2.08" fill="#fff" stroke="#000" stroke-width="1.04"/>
<polygon points="339.80,467.10 342.00,469.50 339.80,471.90 337.60,469.50" fill="#000"/>
<polygon points="345.80,466.90 348.35,471.60 343.25,471.60" fill="#fff" stroke="#000" stroke-width="1.1" stroke-linejoin="miter"/>
<circle cx="351.80" cy="469.50" r="2.2" fill="#000"/>
<polygon points="368.90,431.90 371.25,436.70 366.55,436.70" fill="#000"/>
<rect x="361.05" y="441.35" width="4.3" height="4.3" fill="#000"/>
<ellipse cx="368.90" cy="443.50" rx="2.18" ry="2.08" fill="#fff" stroke="#000" stroke-width="1.04"/>
<rect x="372.40" y="441.30" width="4.40" height="4.40" fill="#fff" stroke="#000" stroke-width="1.1"/>
<polygon points="368.90,448.60 371.10,451.00 368.90,453.40 366.70,451.00" fill="#000"/>
<polygon points="368.90,458.40 371.45,463.10 366.35,463.10" fill="#fff" stroke="#000" stroke-width="1.1" stroke-linejoin="miter"/>
<circle cx="368.90" cy="469.50" r="2.2" fill="#000"/>
<rect x="384.10" y="432.40" width="4.40" height="4.40" fill="#fff" stroke="#000" stroke-width="1.1"/>
<rect x="389.95" y="432.45" width="4.3" height="4.3" fill="#000"/>
<ellipse cx="397.90" cy="434.60" rx="2.18" ry="2.08" fill="#fff" stroke="#000" stroke-width="1.04"/>
<polygon points="389.10,440.80 391.45,445.60 386.75,445.60" fill="#000"/>
<polygon points="395.10,440.90 397.65,445.60 392.55,445.60" fill="#fff" stroke="#000" stroke-width="1.1" stroke-linejoin="miter"/>
<polygon points="392.10,449.30 394.45,454.10 389.75,454.10" fill="#000"/>
<circle cx="392.10" cy="469.50" r="2.2" fill="#000"/>
<ellipse cx="415.00" cy="426.00" rx="2.18" ry="2.08" fill="#fff" stroke="#000" stroke-width="1.04"/>
<rect x="407.15" y="432.45" width="4.3" height="4.3" fill="#000"/>
<polygon points="415.00,431.90 417.35,436.70 412.65,436.70" fill="#000"/>
<rect x="418.50" y="432.40" width="4.40" height="4.40" fill="#fff" stroke="#000" stroke-width="1.1"/>
<polygon points="415.00,440.90 417.20,443.30 415.00,445.70 412.80,443.30" fill="#000"/>
<polygon points="415.00,449.30 417.35,454.10 412.65,454.10" fill="#000"/>
<circle cx="415.00" cy="469.50" r="2.2" fill="#000"/>
<rect x="430.00" y="458.80" width="4.40" height="4.40" fill="#fff" stroke="#000" stroke-width="1.1"/>
<polygon points="438.00,458.60 440.20,461.00 438.00,463.40 435.80,461.00" fill="#000"/>
<polygon points="443.80,458.40 446.35,463.10 441.25,463.10" fill="#fff" stroke="#000" stroke-width="1.1" stroke-linejoin="miter"/>
<rect x="430.05" y="467.35" width="4.3" height="4.3" fill="#000"/>
<polygon points="438.00,466.80 440.35,471.60 435.65,471.60" fill="#000"/>
<ellipse cx="443.80" cy="469.50" rx="2.18" ry="2.08" fill="#fff" stroke="#000" stroke-width="1.04"/>
<circle cx="438.00" cy="496.00" r="2.2" fill="#000"/>
<line x1="314.40" y1="478.50" x2="330.40" y2="478.50" stroke="#000" stroke-width="1.1" stroke-linecap="butt"/>
<line x1="338.00" y1="448.10" x2="353.60" y2="448.10" stroke="#000" stroke-width="1.1" stroke-linecap="butt"/>
<line x1="345.80" y1="443.30" x2="345.80" y2="456.40" stroke="#000" stroke-width="1.1" stroke-linecap="butt"/>
<line x1="341.80" y1="443.30" x2="349.80" y2="443.30" stroke="#000" stroke-width="1.1" stroke-linecap="butt"/>
<line x1="341.80" y1="456.40" x2="349.80" y2="456.40" stroke="#000" stroke-width="1.1" stroke-linecap="butt"/>
<line x1="361.10" y1="446.20" x2="376.70" y2="446.20" stroke="#000" stroke-width="1.1" stroke-linecap="butt"/>
<line x1="368.90" y1="441.00" x2="368.90" y2="452.00" stroke="#000" stroke-width="1.1" stroke-linecap="butt"/>
<line x1="364.90" y1="441.00" x2="372.90" y2="441.00" stroke="#000" stroke-width="1.1" stroke-linecap="butt"/>
<line x1="364.90" y1="452.00" x2="372.90" y2="452.00" stroke="#000" stroke-width="1.1" stroke-linecap="butt"/>
<line x1="384.30" y1="440.70" x2="399.90" y2="440.70" stroke="#000" stroke-width="1.1" stroke-linecap="butt"/>
<line x1="392.10" y1="437.20" x2="392.10" y2="445.00" stroke="#000" stroke-width="1.1" stroke-linecap="butt"/>
<line x1="388.10" y1="437.20" x2="396.10" y2="437.20" stroke="#000" stroke-width="1.1" stroke-linecap="butt"/>
<line x1="388.10" y1="445.00" x2="396.10" y2="445.00" stroke="#000" stroke-width="1.1" stroke-linecap="butt"/>
<line x1="407.20" y1="438.50" x2="422.80" y2="438.50" stroke="#000" stroke-width="1.1" stroke-linecap="butt"/>
<line x1="415.00" y1="433.00" x2="415.00" y2="445.00" stroke="#000" stroke-width="1.1" stroke-linecap="butt"/>
<line x1="411.00" y1="433.00" x2="419.00" y2="433.00" stroke="#000" stroke-width="1.1" stroke-linecap="butt"/>
<line x1="411.00" y1="445.00" x2="419.00" y2="445.00" stroke="#000" stroke-width="1.1" stroke-linecap="butt"/>
<line x1="430.20" y1="465.20" x2="445.80" y2="465.20" stroke="#000" stroke-width="1.1" stroke-linecap="butt"/>
<line x1="438.00" y1="462.00" x2="438.00" y2="468.00" stroke="#000" stroke-width="1.1" stroke-linecap="butt"/>
<line x1="434.00" y1="462.00" x2="442.00" y2="462.00" stroke="#000" stroke-width="1.1" stroke-linecap="butt"/>
<line x1="434.00" y1="468.00" x2="442.00" y2="468.00" stroke="#000" stroke-width="1.1" stroke-linecap="butt"/>
<polyline points="322.20,397.50 322.20,390.90 415.00,390.90 415.00,397.50" fill="none" stroke="#000" stroke-width="1.1"/>
<polyline points="322.20,419.60 322.20,413.10 391.70,413.10 391.70,419.60" fill="none" stroke="#000" stroke-width="1.1"/>
<text x="369.5" y="390.4" font-size="11.6" font-weight="bold" text-anchor="middle" fill="#000" letter-spacing="1.6">**</text>
<text x="356.8" y="412.8" font-size="11.6" font-weight="bold" text-anchor="middle" fill="#000">*</text>
</svg></body></html>
